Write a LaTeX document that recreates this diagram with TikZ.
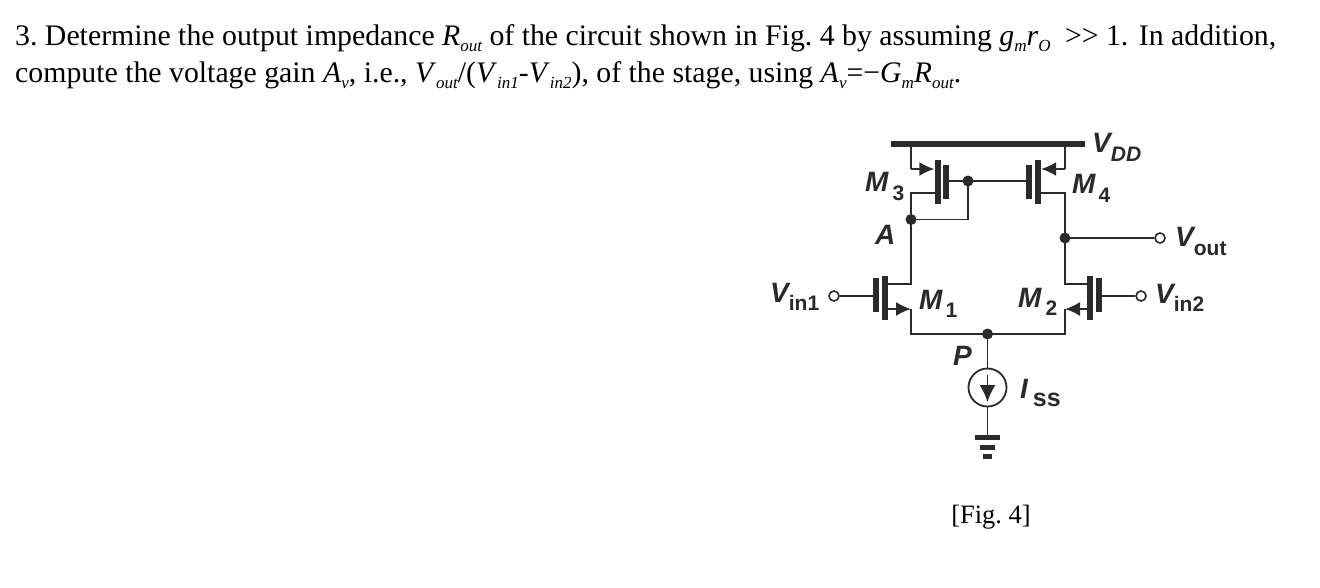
\documentclass[tikz,border=0pt]{standalone}
\usepackage{fontspec}
\setmainfont{Liberation Serif}
\newfontfamily\cirfont{Liberation Sans}
\usetikzlibrary{arrows.meta}
\definecolor{ink}{HTML}{2A2A2A}
\newcommand{\lowtxt}[1]{\raisebox{-0.2em}{\fontsize{17}{17}\selectfont\itshape #1}}
\newcommand{\sublab}[3]{#1\kern#3pt\raisebox{-8.5pt}{\fontsize{21}{21}\selectfont #2}}
\tikzset{
  wire/.style={draw=ink, line width=1.6pt},
  arrowwire/.style={wire, -{Latex[length=15pt,width=14pt]}},
  channel/.style={fill=ink, inner sep=0pt, minimum width=6pt, minimum height=44pt},
  gatebar/.style={fill=ink, inner sep=0pt, minimum width=6pt, minimum height=34pt},
  dot/.style={circle, fill=ink, inner sep=0pt, minimum size=11pt},
  term/.style={circle, draw=ink, fill=white, line width=1.6pt, inner sep=0pt, minimum size=10pt},
  gndbar/.style={fill=ink, inner sep=0pt, minimum height=5pt},
  prose/.style={anchor=base west, inner sep=0pt, font=\frenchspacing\fontsize{29.8}{33}\selectfont},
  lab/.style={anchor=base west, inner sep=0pt, text=ink, font=\cirfont\bfseries\itshape\fontsize{28}{30}\selectfont}
}
\begin{document}
\begin{tikzpicture}[x=1pt, y=-1pt]
  \useasboundingbox (0,0) rectangle (1320,588);
  % question text
  \node[prose] (line1) at (15,46) {3. Determine the output impedance \textit{R}\lowtxt{out} of the circuit shown in Fig. 4 by assuming \textit{g}\lowtxt{m}\textit{r}\lowtxt{O}\kern7pt{} {>}{>} 1. \kern3pt In addition,};
  \node[prose] (line2) at (15,83) {compute the voltage gain \textit{A}\lowtxt{v}, i.e., \textit{V}\lowtxt{out}/(\textit{V}\lowtxt{in1}-\textit{V}\lowtxt{in2}), of the stage, using \textit{A}\lowtxt{v}=\textminus\textit{G}\lowtxt{m}\textit{R}\lowtxt{out}.};
  \node[prose, anchor=base, font=\frenchspacing\fontsize{26.5}{28}\selectfont] (figlab) at (991,523) {[Fig. 4]};

  % supply rail and transistor plates
  \node[fill=ink, inner sep=0pt, minimum width=194pt, minimum height=6pt] (vdd) at (988,144) {};
  \node[channel] (m3ch) at (937.5,182) {};
  \node[gatebar] (m3g) at (945.5,182) {};
  \node[channel] (m4ch) at (1038,182) {};
  \node[gatebar] (m4g) at (1029,182) {};
  \node[channel] (m1ch) at (885,297.5) {};
  \node[gatebar] (m1g) at (876,295) {};
  \node[channel] (m2ch) at (1090,297.5) {};
  \node[gatebar] (m2g) at (1099,295) {};

  % junctions and terminals
  \node[dot] (gdot) at (968,181) {};
  \node[dot] (a) at (911,219.5) {};
  \node[dot] (out) at (1065,238) {};
  \node[dot] (p) at (987.5,334) {};
  \node[term] (vout) at (1160,238) {};
  \node[term] (vin1) at (834,296) {};
  \node[term] (vin2) at (1141,296) {};
  \coordinate (m3s) at (911,169);
  \coordinate (m3d) at (911,193);
  \coordinate (m4s) at (1065,169);
  \coordinate (m4d) at (1065,193);
  \coordinate (m1d) at (911,284);
  \coordinate (m1s) at (911,309);
  \coordinate (m2d) at (1065,284);
  \coordinate (m2s) at (1065,309);

  % wiring
  \draw[wire] (m3s |- vdd.south) -- (m3s);
  \draw[arrowwire] (m3s) -- (m3s -| m3ch.west);
  \draw[wire] (m4s |- vdd.south) -- (m4s);
  \draw[arrowwire] (m4s) -- (m4s -| m4ch.east);
  \draw[wire] (m3ch.east |- m3d) -- (m3d) -- (a.center) -- (m1d) -- (m1d -| m1ch.east);
  \draw[wire] (m4ch.east |- m4d) -- (m4d) -- (out.center) -- (m2d) -- (m2d -| m2ch.west);
  \draw[wire] (m3g.east |- gdot) -- (gdot.center) -- (gdot.center -| m4g.west);
  \draw[wire] (gdot.center) -- (gdot.center |- a) -- (a.center);
  \draw[wire] (out.center) -- (vout);
  \draw[wire] (vin1) -- (vin1 -| m1g.west);
  \draw[wire] (vin2) -- (vin2 -| m2g.east);
  \draw[arrowwire] (m1s -| m1ch.east) -- (m1s);
  \draw[arrowwire] (m2s -| m2ch.west) -- (m2s);
  \draw[wire] (m1s) |- (p.center) -| (m2s);

  % tail source and ground
  \node[circle, draw=ink, line width=1.8pt, minimum size=38pt, inner sep=0pt] (iss) at (987.5,387.5) {};
  \draw[wire, line width=1.8pt] (p.center) -- (iss);
  \coordinate (isstop) at (987.5,375);
  \coordinate (issbot) at (987.5,402);
  \draw[arrowwire, -{Latex[length=17pt,width=16pt]}] (isstop) -- (issbot);
  \node[gndbar, minimum width=25pt] (gnd1) at (987.5,437.5) {};
  \node[gndbar, minimum width=15pt] (gnd2) at (987.5,447) {};
  \node[gndbar, minimum width=9pt] (gnd3) at (987.5,456.5) {};
  \draw[wire, line width=1.8pt] (iss) -- (gnd1);

  % labels
  \node[lab] (lvdd) at (1092,153) {\sublab{V}{DD}{0}};
  \node[lab] (lm3) at (865,192) {\sublab{M}{\normalfont\cirfont\bfseries 3}{4}};
  \node[lab] (lm4) at (1072,194) {\sublab{M}{\normalfont\cirfont\bfseries 4}{3}};
  \node[lab] (lm1) at (919,309) {\sublab{M}{\normalfont\cirfont\bfseries 1}{3}};
  \node[lab] (lm2) at (1018,307) {\sublab{M}{\normalfont\cirfont\bfseries 2}{4}};
  \node[lab] (la) at (875,244) {A};
  \node[lab] (lp) at (953,365) {P};
  \node[lab] (lvout) at (1175,247) {\sublab{V}{\normalfont\cirfont\bfseries out}{0}};
  \node[lab] (lvin1) at (770,302) {\sublab{V}{\normalfont\cirfont\bfseries in1}{0}};
  \node[lab] (lvin2) at (1155,303) {\sublab{V}{\normalfont\cirfont\bfseries in2}{0}};
  \node[lab] (liss) at (1020,398) {\sublab{I}{\fontsize{25}{25}\selectfont\normalfont\cirfont\bfseries ss}{5}};
\end{tikzpicture}
\end{document}
